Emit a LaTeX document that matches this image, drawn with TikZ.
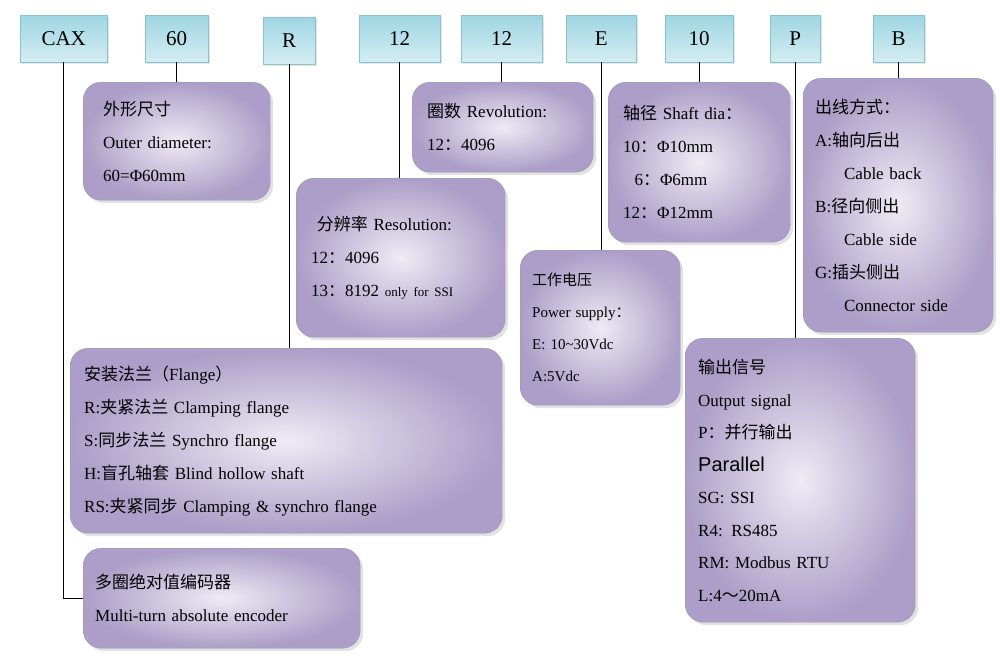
\documentclass[tikz,border=0pt]{standalone}
\usepackage{fontspec}
\setmainfont{Liberation Serif}
\newfontfamily\cjk{Noto Sans CJK SC}
\newfontfamily\sans{Liberation Sans}
\usetikzlibrary{shadows}
\definecolor{codefill}{HTML}{9FD6E2}
\definecolor{codeedge}{HTML}{86C3CF}
\definecolor{lavdark}{HTML}{AC9EC8}
\definecolor{lavlight}{HTML}{EEEBF4}
\definecolor{lavedge}{HTML}{9C8FB6}
\newcommand{\zh}[1]{{\cjk #1}}
\begin{document}
\begin{tikzpicture}[x=1pt, y=-1pt,
  code/.style={draw=codeedge, top color=codefill, bottom color=codefill!45!white,
    anchor=north west, minimum height=47, font=\fontsize{21}{24}\selectfont,
    drop shadow={shadow xshift=2pt, shadow yshift=-2pt, fill=gray!40}},
  callout/.style={draw=lavedge, rounded corners=18pt, shading=radial,
    inner color=lavlight, outer color=lavdark, anchor=north west,
    align=left, inner xsep=20pt, font=\fontsize{17}{33}\selectfont,
    drop shadow={shadow xshift=3pt, shadow yshift=-3pt, fill=gray!45}},
  link/.style={thick, black}]
\useasboundingbox (0,0) rectangle (1000,665);
% code boxes
\node[code, minimum width=87] (cax) at (20,15) {CAX};
\node[code, minimum width=63] (m60) at (145,15) {60};
\node[code, minimum width=52] (mr) at (263,17) {R};
\node[code, minimum width=81] (mres) at (359,15) {12};
\node[code, minimum width=81] (mrev) at (461,15) {12};
\node[code, minimum width=70] (me) at (566,15) {E};
\node[code, minimum width=68] (msh) at (665,15) {10};
\node[code, minimum width=50] (mp) at (770,15) {P};
\node[code, minimum width=51] (mb) at (873,15) {B};
% callouts
\node[callout, minimum width=187, minimum height=118, text width=147] (od) at (83,82)
  {\zh{外形尺寸}\\Outer diameter:\\60=Φ60mm};
\node[callout, minimum width=181, minimum height=90, text width=151, inner xsep=15pt] (rev) at (412,82)
  {\zh{圈数} Revolution:\\12\zh{：}4096};
\node[callout, minimum width=209, minimum height=159, text width=179, inner xsep=15pt] (res) at (296,178)
  {\ \zh{分辨率} Resolution:\\12\zh{：}4096\\13\zh{：}8192 {\fontsize{13}{33}\selectfont only for SSI}};
\node[callout, minimum width=182, minimum height=160, text width=152, inner xsep=15pt] (sh) at (608,82)
  {\zh{轴径} Shaft dia\zh{：}\\10\zh{：}Φ10mm\\\ \ 6\zh{：}Φ6mm\\12\zh{：}Φ12mm};
\node[callout, minimum width=190, minimum height=254, text width=166, inner xsep=12pt] (cab) at (803,78)
  {\zh{出线方式：}\\A:\zh{轴向后出}\\\hspace*{1.7em}Cable back\\B:\zh{径向侧出}\\\hspace*{1.7em}Cable side\\G:\zh{插头侧出}\\\hspace*{1.7em}Connector side};
\node[callout, minimum width=160, minimum height=155, text width=136, inner xsep=12pt,
  font=\fontsize{15}{32}\selectfont] (pw) at (520,250)
  {\zh{工作电压}\\Power supply\zh{：}\\E: 10\textasciitilde30Vdc\\A:5Vdc};
\node[callout, minimum width=432, minimum height=185, text width=404, inner xsep=14pt] (fl) at (70,348)
  {\zh{安装法兰（}Flange\zh{）}\\R:\zh{夹紧法兰} Clamping flange\\S:\zh{同步法兰} Synchro flange\\H:\zh{盲孔轴套} Blind hollow shaft\\RS:\zh{夹紧同步} Clamping \& synchro flange};
\node[callout, minimum width=230, minimum height=284, text width=204, inner xsep=13pt,
  font=\fontsize{17}{32.5}\selectfont] (out) at (685,338)
  {\zh{输出信号}\\Output signal\\P\zh{：并行输出}\\{\sans\fontsize{20}{32.5}\selectfont Parallel}\\SG: SSI\\R4: RS485\\RM: Modbus RTU\\L:4\zh{～}20mA};
\node[callout, minimum width=277, minimum height=100, text width=253, inner xsep=12pt] (enc) at (83,548)
  {\zh{多圈绝对值编码器}\\Multi-turn absolute encoder};
% connectors
\draw[link] (cax.south) |- (enc.west);
\draw[link] (m60.south) -- (m60.south |- od.north);
\draw[link] (mr.south) -- (mr.south |- fl.north);
\draw[link] (mres.south) -- (mres.south |- res.north);
\draw[link] (mrev.south) -- (mrev.south |- rev.north);
\draw[link] (me.south) -- (me.south |- pw.north);
\draw[link] (msh.south) -- (msh.south |- sh.north);
\draw[link] (mp.south) -- (mp.south |- out.north);
\draw[link] (mb.south) -- (mb.south |- cab.north);
\end{tikzpicture}
\end{document}
